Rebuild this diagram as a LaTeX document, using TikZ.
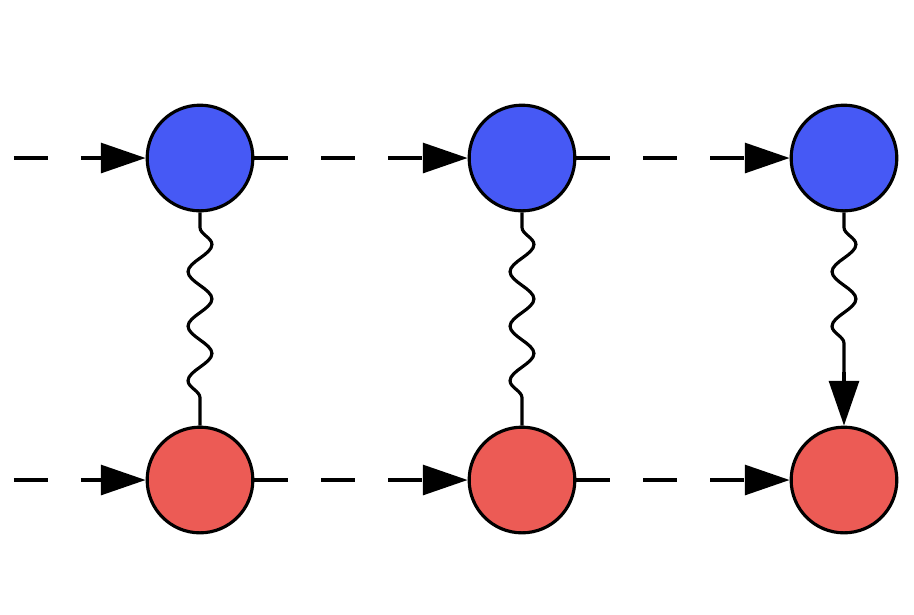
\documentclass[tikz,border=0pt]{standalone}
\usetikzlibrary{arrows.meta,decorations.pathmorphing}
\definecolor{cblue}{HTML}{4659F5}
\definecolor{cred}{HTML}{EC5B55}
\begin{document}
\begin{tikzpicture}[x=0.01cm,y=-0.01cm,
  ball/.style={circle,draw=black,line width=0.9pt,minimum size=106*0.2835pt,inner sep=0pt},
  dline/.style={line width=0.9pt,dash pattern=on 9.6pt off 9.4pt,-{Triangle[length=12.7pt,width=8.5pt]}},
  wline/.style={line width=0.9pt,decorate,decoration={snake,segment length=15.5pt,amplitude=3.4pt,pre length=1.5mm,post length=1.5mm}}]
\useasboundingbox (0,0) rectangle (914,614);
\foreach \n/\x in {1/200,2/522,3/844}{
  \node[ball,fill=cblue] (b\n) at (\x,158) {};
  \node[ball,fill=cred] (r\n) at (\x,480) {};
}
\coordinate (s1) at (14,158);
\coordinate (s2) at (14,480);
\draw[dline] (s1) -- (b1);
\draw[dline] (s2) -- (r1);
\draw[dline] (b1) -- (b2);
\draw[dline] (b2) -- (b3);
\draw[dline] (r1) -- (r2);
\draw[dline] (r2) -- (r3);
\draw[wline] (b1) -- (r1);
\draw[wline] (b2) -- (r2);
\coordinate (w3) at (844,372);
\draw[wline] (b3.south) -- (w3);
\draw[line width=0.9pt,-{Triangle[length=12.7pt,width=8.5pt]}] (w3) -- (r3);
\end{tikzpicture}
\end{document}
